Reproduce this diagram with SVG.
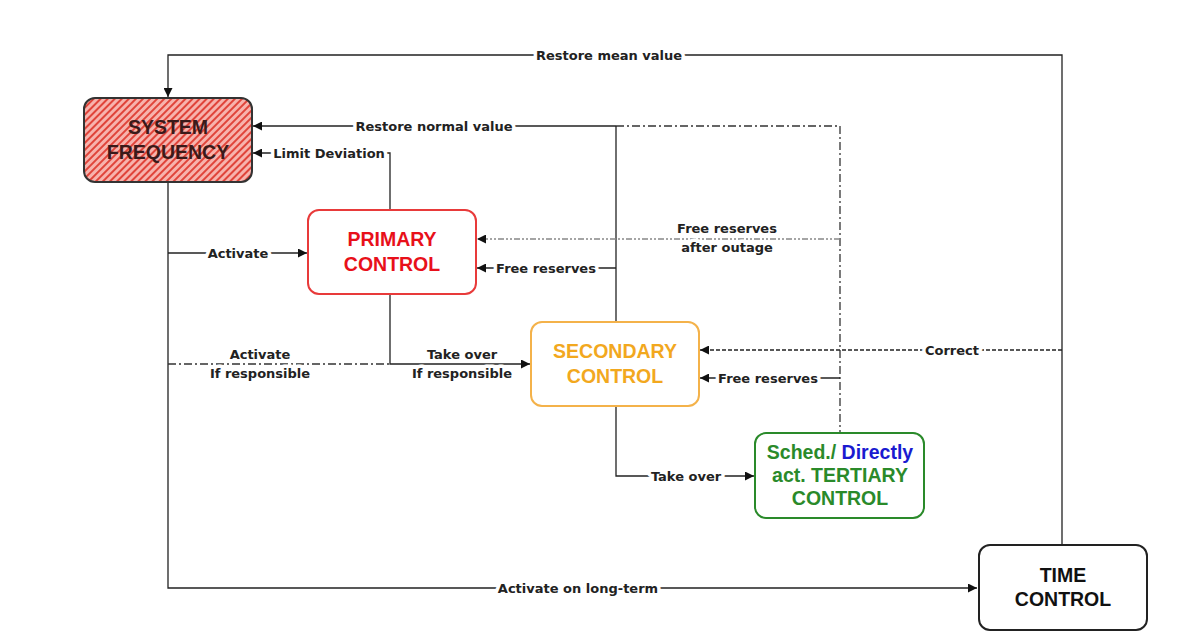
<svg xmlns="http://www.w3.org/2000/svg" width="1200" height="641" viewBox="0 0 1200 641">
<defs>
<pattern id="hatch" width="5" height="5" patternUnits="userSpaceOnUse" patternTransform="rotate(45)">
<rect width="5" height="5" fill="#f7b3ad"/>
<rect width="2" height="5" fill="#e0443a"/>
</pattern>
<marker id="arr" viewBox="0 0 10 10" refX="10" refY="5" markerWidth="9" markerHeight="9" markerUnits="userSpaceOnUse" orient="auto">
<path d="M0,0 L10,5 L0,10 z" fill="#111"/>
</marker>
<style>
.node{stroke-width:2}
.nt{font-family:"Liberation Sans",Arial,sans-serif;font-weight:bold;font-size:19.5px;text-anchor:middle}
.c{fill:none;stroke:#222;stroke-width:1.3}
.dd{stroke-dasharray:8 3 2 3;stroke:#333}
.dg{stroke-dasharray:6 2 2 2 2 2;stroke:#888}
.ds{stroke-dasharray:4 2}
.lb{font-family:"DejaVu Sans","Liberation Sans",sans-serif;font-weight:bold;font-size:13px;fill:#222;text-anchor:middle;stroke:#fff;stroke-width:7;paint-order:stroke;stroke-linejoin:round}
</style>
</defs>
<rect width="1200" height="641" fill="#fff"/>
<g id="connectors">
<path class="c" d="M1062,545 V55 H168 V97" marker-end="url(#arr)"/>
<path class="c" d="M616,126 H253" marker-end="url(#arr)"/>
<path class="c dd" d="M616,126 H840 V433"/>
<path class="c" d="M616,322 V126"/>
<path class="c" d="M616,268 H477" marker-end="url(#arr)"/>
<path class="c dg" d="M840,239 H477" marker-end="url(#arr)"/>
<path class="c" d="M390,210 V153 H253" marker-end="url(#arr)"/>
<path class="c" d="M168,182 V588 H977" marker-end="url(#arr)"/>
<path class="c" d="M168,253 H307" marker-end="url(#arr)"/>
<path class="c dd" d="M168,364 H390"/>
<path class="c" d="M390,294 V364 H530" marker-end="url(#arr)"/>
<path class="c ds" d="M1062,350 H700" marker-end="url(#arr)"/>
<path class="c" d="M840,378 H700" marker-end="url(#arr)"/>
<path class="c" d="M616,406 V476 H754" marker-end="url(#arr)"/>
<text class="lb" x="609" y="60">Restore mean value</text>
<text class="lb" x="434" y="131">Restore normal value</text>
<text class="lb" x="329" y="158">Limit Deviation</text>
<text class="lb" x="238" y="258">Activate</text>
<text class="lb" x="546" y="273">Free reserves</text>
<text class="lb" x="727" y="233">Free reserves</text>
<text class="lb" x="727" y="252">after outage</text>
<text class="lb" x="260" y="359">Activate</text>
<text class="lb" x="260" y="378">If responsible</text>
<text class="lb" x="462" y="359">Take over</text>
<text class="lb" x="462" y="378">If responsible</text>
<text class="lb" x="952" y="355">Correct</text>
<text class="lb" x="768" y="383">Free reserves</text>
<text class="lb" x="686" y="481">Take over</text>
<text class="lb" x="578" y="593">Activate on long-term</text>
</g>
<g id="system-frequency">
<rect class="node" x="84" y="98" width="168" height="84" rx="11" fill="url(#hatch)" stroke="#333"/>
<text class="nt" x="168" y="134" fill="#3a1a1a">SYSTEM</text>
<text class="nt" x="168" y="159" fill="#3a1a1a">FREQUENCY</text>
</g>
<g id="primary-control">
<rect class="node" x="308" y="210" width="168" height="84" rx="11" fill="#fff" stroke="#e83a3a"/>
<text class="nt" x="392" y="246" fill="#e8101a">PRIMARY</text>
<text class="nt" x="392" y="271" fill="#e8101a">CONTROL</text>
</g>
<g id="secondary-control">
<rect class="node" x="531" y="322" width="168" height="84" rx="11" fill="#fff" stroke="#f4b24a"/>
<text class="nt" x="615" y="358" fill="#f2a81e">SECONDARY</text>
<text class="nt" x="615" y="383" fill="#f2a81e">CONTROL</text>
</g>
<g id="tertiary-control">
<rect class="node" x="755" y="433" width="169" height="85" rx="11" fill="#fff" stroke="#2a8a2a"/>
<text class="nt" x="840" y="459"><tspan fill="#2a8a2a">Sched./ </tspan><tspan fill="#1a1ad0">Directly</tspan></text>
<text class="nt" x="840" y="482" fill="#2a8a2a">act. TERTIARY</text>
<text class="nt" x="840" y="505" fill="#2a8a2a">CONTROL</text>
</g>
<g id="time-control">
<rect class="node" x="979" y="545" width="168" height="85" rx="11" fill="#fff" stroke="#222"/>
<text class="nt" x="1063" y="582" fill="#111">TIME</text>
<text class="nt" x="1063" y="606" fill="#111">CONTROL</text>
</g>
</svg>
